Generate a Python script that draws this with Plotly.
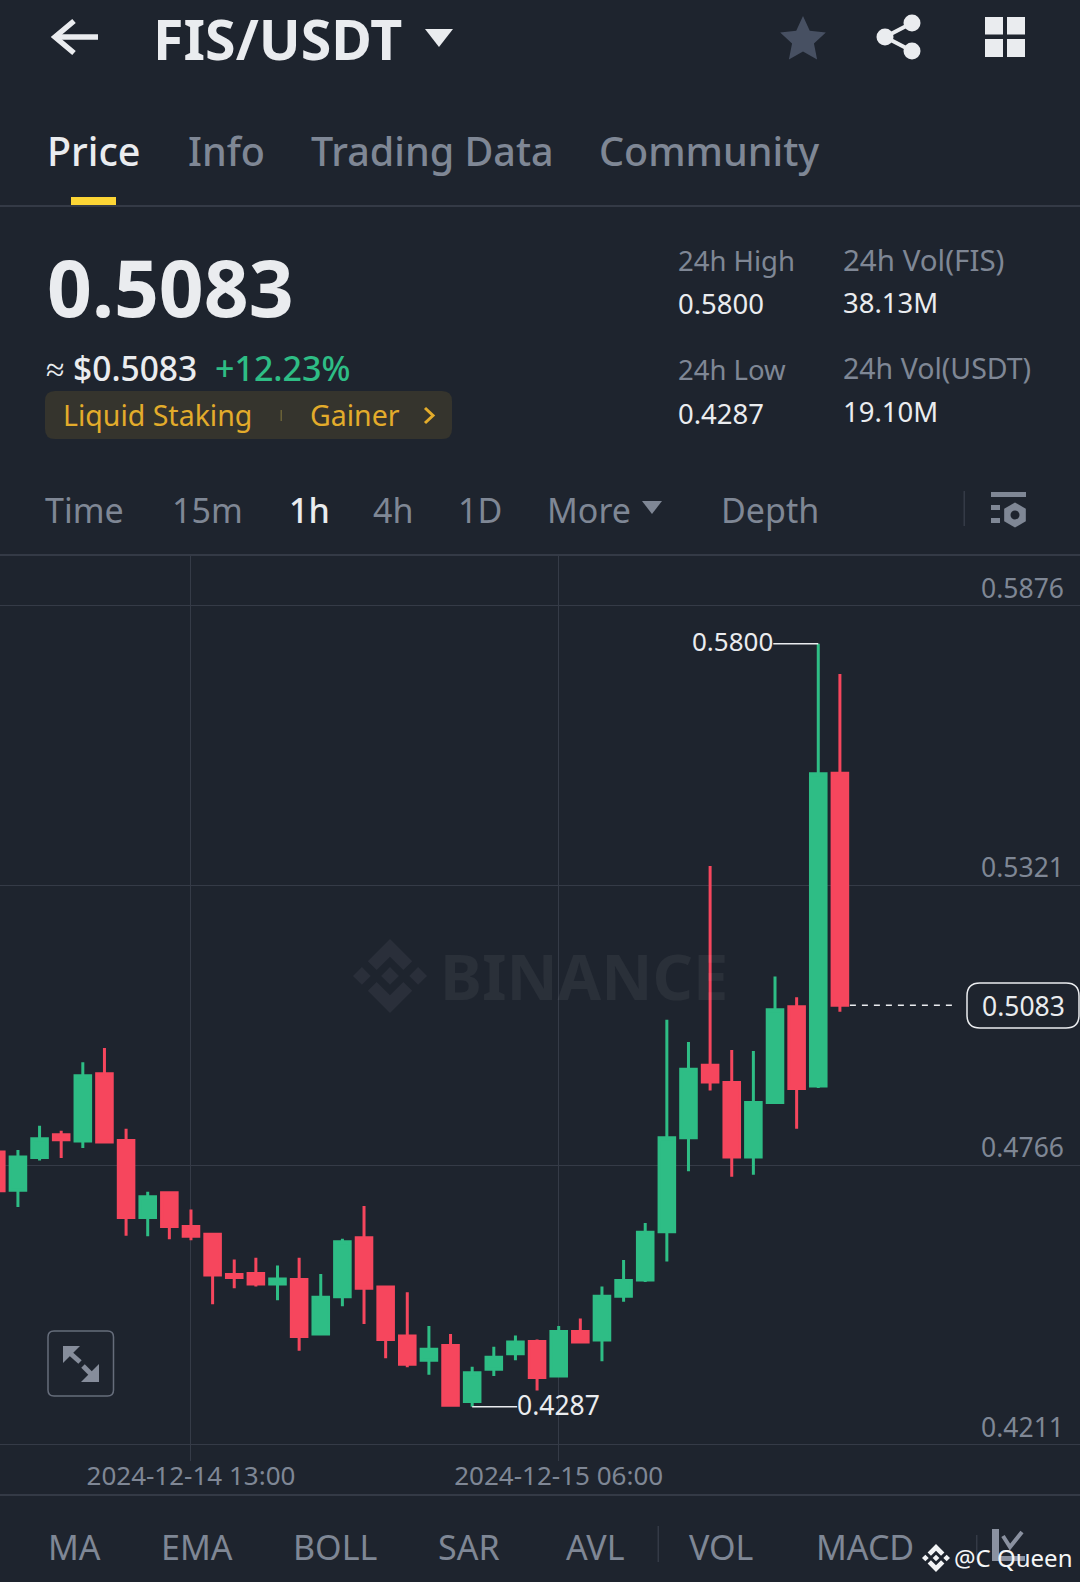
import math
import pandas as pd
import plotly.graph_objects as go

W = 1080
H = 1582

BG = "#1E242E"
LINE = "#343A46"
GRID = "#353B47"
WHITE = "#EAECEF"
GREY = "#7F8795"
GREEN = "#2EBD85"
RED = "#F6465D"
YELLOW = "#FCD535"
GOLD = "#E3AC2B"
FONT = "Noto Sans"

# 1h candles, first one is 2024-12-14 04:00
opens = [0.4792, 0.4716, 0.4781, 0.4826, 0.4814, 0.4947, 0.4815, 0.4662, 0.4711, 0.4644,
         0.4629, 0.4549, 0.4551, 0.4530, 0.4539, 0.4431, 0.4505, 0.4622, 0.4524, 0.4427,
         0.4379, 0.4408, 0.4297, 0.4361, 0.4392, 0.4416, 0.4348, 0.4436, 0.4419, 0.4506,
         0.4538, 0.4634, 0.4820, 0.4964, 0.4930, 0.4782, 0.4890, 0.5080, 0.4923, 0.5543]
highs = [0.4796, 0.4796, 0.4844, 0.4834, 0.4970, 0.4998, 0.4838, 0.4713, 0.4711, 0.4678,
         0.4629, 0.4579, 0.4582, 0.4567, 0.4582, 0.4550, 0.4620, 0.4685, 0.4524, 0.4514,
         0.4447, 0.4431, 0.4366, 0.4406, 0.4428, 0.4420, 0.4447, 0.4462, 0.4525, 0.4578,
         0.4651, 0.5054, 0.5010, 0.5359, 0.4994, 0.4992, 0.5140, 0.5099, 0.5800, 0.5740]
lows = [0.4710, 0.4683, 0.4775, 0.4780, 0.4800, 0.4809, 0.4626, 0.4625, 0.4619, 0.4617,
        0.4490, 0.4522, 0.4525, 0.4498, 0.4398, 0.4428, 0.4486, 0.4451, 0.4383, 0.4365,
        0.4350, 0.4290, 0.4287, 0.4348, 0.4379, 0.4319, 0.4346, 0.4415, 0.4377, 0.4495,
        0.4534, 0.4575, 0.4754, 0.4914, 0.4743, 0.4747, 0.4890, 0.4838, 0.4919, 0.5070]
closes = [0.4715, 0.4782, 0.4818, 0.4816, 0.4943, 0.4812, 0.4662, 0.4703, 0.4644, 0.4625,
          0.4548, 0.4543, 0.4530, 0.4540, 0.4426, 0.4504, 0.4614, 0.4522, 0.4420, 0.4371,
          0.4401, 0.4290, 0.4354, 0.4385, 0.4415, 0.4345, 0.4436, 0.4415, 0.4506, 0.4537,
          0.4633, 0.4820, 0.4956, 0.4931, 0.4782, 0.4890, 0.5074, 0.4918, 0.5542, 0.5083]
times = pd.date_range("2024-12-14 04:00", periods=len(opens), freq="h")

price_ticks = [0.5876, 0.5321, 0.4766, 0.4211]
time_ticks = ["2024-12-14 13:00", "2024-12-15 06:00"]

high_value = 0.5800
low_value = 0.4287
last_price = 0.5083

tabs = ["Price", "Info", "Trading Data", "Community"]
tab_x = [46, 187, 310, 598]
periods = ["Time", "15m", "1h", "4h", "1D", "More", "Depth"]
period_x = [44, 171, 288, 372, 457, 546, 720]
indicators = ["MA", "EMA", "BOLL", "SAR", "AVL", "VOL", "MACD"]
indicator_x = [47, 160, 292, 437, 565, 688, 815]


def px(x):
    return x / W


def py(y):
    return 1 - y / H


def poly(points, color, close=True, width=0):
    # polygon or polyline in screen pixels
    d = "M " + " L ".join(f"{px(x):.5f},{py(y):.5f}" for x, y in points)
    if close:
        d += " Z"
    return dict(type="path", xref="paper", yref="paper", path=d, layer="above",
                fillcolor=color if close else "rgba(0,0,0,0)",
                line=dict(color=color, width=width))


def rect(x0, y0, x1, y1, color):
    return poly([(x0, y0), (x1, y0), (x1, y1), (x0, y1)], color)


def circle(cx, cy, r, color):
    return dict(type="circle", xref="paper", yref="paper", layer="above",
                x0=px(cx - r), x1=px(cx + r), y0=py(cy + r), y1=py(cy - r),
                fillcolor=color, line=dict(width=0))


def round_rect(x0, y0, x1, y1, r, fill, stroke=None, width=0):
    X = lambda v: f"{px(v):.5f}"
    Y = lambda v: f"{py(v):.5f}"
    d = (f"M {X(x0 + r)},{Y(y0)} L {X(x1 - r)},{Y(y0)} Q {X(x1)},{Y(y0)} {X(x1)},{Y(y0 + r)} "
         f"L {X(x1)},{Y(y1 - r)} Q {X(x1)},{Y(y1)} {X(x1 - r)},{Y(y1)} "
         f"L {X(x0 + r)},{Y(y1)} Q {X(x0)},{Y(y1)} {X(x0)},{Y(y1 - r)} "
         f"L {X(x0)},{Y(y0 + r)} Q {X(x0)},{Y(y0)} {X(x0 + r)},{Y(y0)} Z")
    return dict(type="path", xref="paper", yref="paper", path=d, layer="above", fillcolor=fill,
                line=dict(color=stroke or fill, width=width))


def logo(cx, cy, r, color):
    # binance mark: two chevrons and three small diamonds
    top = [(0, -1), (0.6, -0.4), (0.36, -0.16), (0, -0.52), (-0.36, -0.16), (-0.6, -0.4)]
    bottom = [(a, -b) for a, b in top]
    out = [poly([(cx + a * r, cy + b * r) for a, b in part], color) for part in (top, bottom)]
    for c in (-0.76, 0, 0.76):
        d = 0.24
        out.append(poly([(cx + (c - d) * r, cy), (cx + c * r, cy - d * r),
                         (cx + (c + d) * r, cy), (cx + c * r, cy + d * r)], color))
    return out


def label(x, y, text, size, color, weight=400):
    return dict(xref="paper", yref="paper", x=px(x), y=py(y), text=text, showarrow=False,
                xanchor="left", yanchor="middle", borderpad=0,
                font=dict(family=FONT, size=size, color=color, weight=weight))


fig = go.Figure(go.Candlestick(
    x=times, open=opens, high=highs, low=lows, close=closes,
    whiskerwidth=0,
    increasing=dict(line=dict(color=GREEN, width=3), fillcolor=GREEN),
    decreasing=dict(line=dict(color=RED, width=3), fillcolor=RED),
    showlegend=False,
))

shapes = []
notes = []

# header
shapes.append(poly([(74, 21), (55, 37), (74, 53)], WHITE, close=False, width=5.5))
shapes.append(poly([(55, 37), (98, 37)], WHITE, close=False, width=5.5))
shapes.append(poly([(425, 29), (453, 29), (439, 47)], WHITE))
star = []
for i in range(10):
    r = 24 if i % 2 == 0 else 11.5
    a = -math.pi / 2 + i * math.pi / 5
    star.append((803 + r * math.cos(a), 40 + r * math.sin(a)))
shapes.append(poly(star, "#475062"))
shapes.append(poly([(912, 23), (885, 37), (912, 51)], WHITE, close=False, width=4))
for cx, cy in [(912, 23), (885, 37), (912, 51)]:
    shapes.append(circle(cx, cy, 8.5, WHITE))
shapes.append(rect(985, 17, 1003, 34.5, WHITE))
shapes.append(rect(1007, 17, 1025, 34.5, WHITE))
shapes.append(rect(985, 39, 1003, 57, WHITE))
shapes.append(rect(1007, 39, 1025, 57, WHITE))
notes.append(label(152, 38, "FIS/USDT", 55.5, WHITE, 700))

# tabs
for i, name in enumerate(tabs):
    notes.append(label(tab_x[i], 151, name, 39.5, WHITE if i == 0 else GREY, 500))
shapes.append(rect(71, 197, 116, 205, YELLOW))
shapes.append(rect(0, 205, W, 207, LINE))

# price block
notes.append(label(46, 287, "0.5083", 78.5, WHITE, 700))
notes.append(label(45, 368, "≈ $0.5083", 33.5, WHITE, 500))
notes.append(label(214, 368, "+12.23%", 34, GREEN, 500))
shapes.append(round_rect(45, 391, 452, 439, 10, "#35342D"))
shapes.append(rect(280.5, 410, 282, 421, "#6B6238"))
notes.append(label(62, 415, "Liquid Staking", 28.5, GOLD))
notes.append(label(309, 415, "Gainer", 28.5, GOLD))
shapes.append(poly([(425, 408), (433, 415.5), (425, 423)], GOLD, close=False, width=3))

notes.append(label(677, 260, "24h High", 27.5, GREY))
notes.append(label(677, 304, "0.5800", 27.5, WHITE))
notes.append(label(842, 259, "24h Vol(FIS)", 29.5, GREY))
notes.append(label(842, 302, "38.13M", 27.5, WHITE))
notes.append(label(677, 370, "24h Low", 27.5, GREY))
notes.append(label(677, 413, "0.4287", 27.5, WHITE))
notes.append(label(842, 368, "24h Vol(USDT)", 28.5, GREY))
notes.append(label(842, 411, "19.10M", 27.5, WHITE))

# period row
for i, name in enumerate(periods):
    notes.append(label(period_x[i], 510, name, 34, WHITE if name == "1h" else GREY, 500 if name == "1h" else 400))
shapes.append(poly([(642, 501), (662, 501), (652, 514)], GREY))
shapes.append(rect(963.5, 491, 965, 526, LINE))
shapes.append(rect(991, 492, 1026, 497, GREY))
shapes.append(rect(991, 505, 1000, 510, GREY))
shapes.append(rect(991, 518, 1000, 523, GREY))
hexagon = [(1015 + 12.5 * math.sin(i * math.pi / 3), 515 + 12.5 * math.cos(i * math.pi / 3)) for i in range(6)]
shapes.append(poly(hexagon, GREY))
shapes.append(circle(1015, 515, 4.5, BG))
shapes.append(rect(0, 554, W, 556, LINE))

# chart extras
shapes.extend(logo(390, 976, 37, "#2A2F3A"))
notes.append(label(439, 975, "BINANCE", 63, "rgba(255,255,255,0.055)", 700))

i_high = highs.index(high_value)
i_low = lows.index(low_value)
shapes.append(dict(type="line", xref="x", yref="y", xsizemode="pixel", xanchor=times[i_high],
                   x0=-45, x1=0, y0=high_value, y1=high_value, line=dict(color=WHITE, width=1.5)))
shapes.append(dict(type="line", xref="x", yref="y", xsizemode="pixel", xanchor=times[i_low],
                   x0=0, x1=45, y0=low_value, y1=low_value, line=dict(color=WHITE, width=1.5)))
notes.append(dict(xref="x", yref="y", x=times[i_high], y=high_value, text=f"{high_value:.4f}", showarrow=False,
                  xanchor="right", xshift=-43, yshift=3, font=dict(family=FONT, size=26, color=WHITE)))
notes.append(dict(xref="x", yref="y", x=times[i_low], y=low_value, text=f"{low_value:.4f}", showarrow=False,
                  xanchor="left", xshift=43, yshift=2, font=dict(family=FONT, size=26.5, color=WHITE)))

# last price line and tag
shapes.append(dict(type="line", xref="x", yref="y", xsizemode="pixel", xanchor=times[-1],
                   x0=10, x1=112, y0=last_price, y1=last_price,
                   line=dict(color=WHITE, width=1.5, dash="6px,6px")))
shapes.append(round_rect(967, 983, 1079, 1028, 13, BG, WHITE, 1.5))
notes.append(dict(xref="paper", yref="y", x=px(980), y=last_price, text=f"{last_price:.4f}", showarrow=False,
                  xanchor="left", yshift=-1, font=dict(family=FONT, size=26.5, color=WHITE)))

# expand button
shapes.append(round_rect(48, 1331, 113.5, 1396, 6, "rgba(0,0,0,0)", "#666D7B", 1.5))
shapes.append(poly([(63, 1346), (80, 1346), (63, 1363)], "#868D9B"))
shapes.append(poly([(99, 1382), (99, 1364), (81, 1382)], "#868D9B"))
shapes.append(poly([(71, 1354), (80, 1362)], "#868D9B", close=False, width=5))
shapes.append(poly([(83, 1366), (91, 1374)], "#868D9B", close=False, width=5))

# footer
shapes.append(rect(0, 1494, W, 1496, LINE))
for i, name in enumerate(indicators):
    notes.append(label(indicator_x[i], 1547, name, 34, GREY))
shapes.append(rect(657.5, 1526, 659, 1562, LINE))
shapes.append(rect(976, 1535, 977.5, 1560, LINE))
shapes.append(rect(992, 1529, 999, 1561, "#8A91A0"))
shapes.append(rect(992, 1556, 1025, 1561, "#8A91A0"))
shapes.append(poly([(1003, 1536), (1010, 1547), (1022, 1532)], "#8A91A0", close=False, width=4))
shapes.extend(logo(936, 1558, 14, "#F2F3F5"))
notes.append(label(953, 1557, "@C Queen", 24, "#F5F6F7"))

fig.update_layout(
    width=W,
    height=H,
    margin=dict(l=0, r=0, t=0, b=0),
    paper_bgcolor=BG,
    plot_bgcolor=BG,
    boxgap=0.28,
    boxgroupgap=0,
    showlegend=False,
    shapes=shapes,
    annotations=notes,
    xaxis=dict(
        rangeslider=dict(visible=False),
        type="date",
        range=["2024-12-14 04:10:16", "2024-12-16 06:06:00"],
        tickmode="array",
        tickvals=time_ticks,
        ticktext=time_ticks,
        ticks="",
        ticklabelstandoff=-3,
        showgrid=True,
        gridcolor=GRID,
        gridwidth=1,
        showline=False,
        zeroline=False,
        tickangle=0,
        tickfont=dict(family=FONT, size=26, color=GREY),
    ),
    yaxis=dict(
        domain=[1 - 1461 / H, 1 - 555 / H],
        range=[0.41792, 0.59758],
        side="right",
        tickmode="array",
        tickvals=price_ticks,
        ticktext=[f"{v:.4f}" for v in price_ticks],
        ticks="",
        ticklabelposition="inside",
        ticklabelshift=-17,
        ticklabelstandoff=13,
        showgrid=True,
        gridcolor=GRID,
        gridwidth=1,
        showline=False,
        zeroline=False,
        tickfont=dict(family=FONT, size=26.5, color=GREY),
    ),
)

fig.write_html("out.html", config=dict(displayModeBar=False),
               post_script="document.body.style.margin='0';")
